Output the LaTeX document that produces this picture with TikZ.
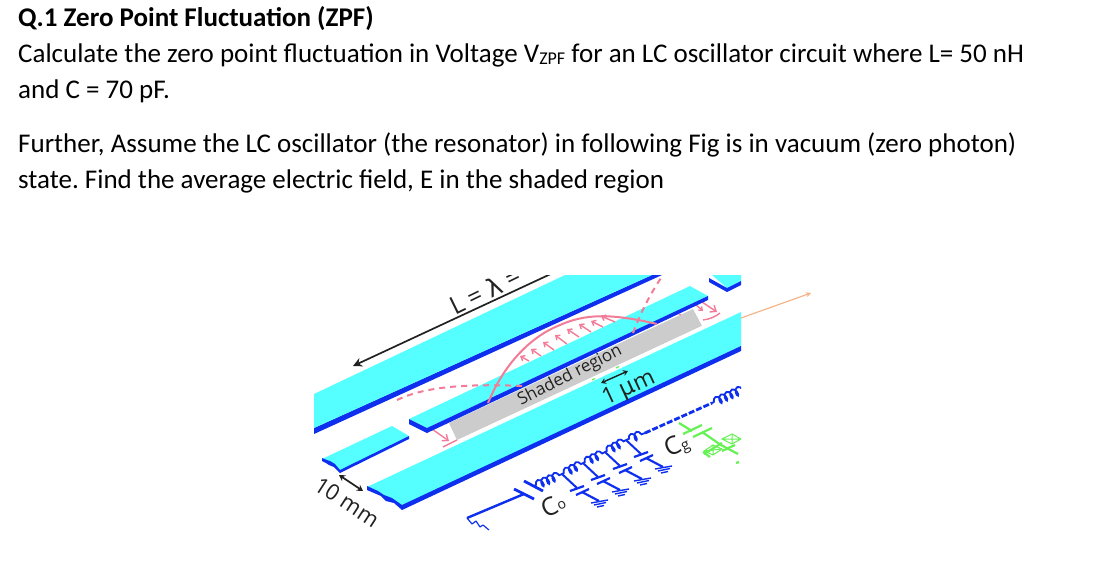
\documentclass[tikz,border=0pt]{standalone}
\usepackage{fontspec}
\setmainfont{Carlito}
\newfontfamily\figfont{Open Sans}
\newfontfamily\symfont{DejaVu Sans}
\usetikzlibrary{decorations.pathmorphing,arrows.meta}
\frenchspacing
\definecolor{stripc}{HTML}{55FFFF}
\definecolor{edgec}{HTML}{0F2FEF}
\definecolor{pinkc}{HTML}{F27C98}
\definecolor{greenc}{HTML}{66F255}
\definecolor{orangec}{HTML}{F5B183}
\definecolor{grayc}{HTML}{CCCCCC}
\definecolor{inkc}{HTML}{222222}
\tikzset{
  bodytext/.style={anchor=base west,inner sep=0pt,font=\fontsize{27}{27}\selectfont,text=black},
  figtext/.style={inner sep=0pt,text=inkc,font=\figfont\fontsize{#1}{#1}\selectfont},
  strip/.style={fill=stripc,draw=none},
  edge/.style={fill=edgec,draw=none},
  wire/.style={draw=edgec,line width=2.4pt},
  plate/.style={draw=edgec,line width=2.8pt},
  coilwire/.style={draw=edgec,line width=1.8pt,decorate,decoration={coil,segment length=6pt,amplitude=4pt,aspect=0.55,pre length=2pt,post length=2pt}},
  pinkline/.style={draw=pinkc,line width=2pt},
  pinkdash/.style={draw=pinkc,line width=2pt,dash pattern=on 6pt off 5pt},
  pinkarrow/.style={draw=pinkc,line width=1.4pt,-{Straight Barb[length=3.5pt,width=6pt]}},
  dimarrow/.style={draw=inkc,line width=1.7pt,{Stealth[length=6pt,width=7pt]}-{Stealth[length=6pt,width=7pt]}},
  greenwire/.style={draw=greenc,line width=2.2pt},
  squidline/.style={draw=greenc,line width=1pt},
}
\begin{document}
\begin{tikzpicture}[x=1pt,y=-1pt]
\useasboundingbox (0,0) rectangle (1095,579);
\fill[white] (0,0) rectangle (1095,579);
% ---- text
\node[bodytext,font=\bfseries\fontsize{27}{27}\selectfont] (title) at (18,26) {Q.1 Zero Point Fluctuation (ZPF)};
\node[bodytext] (lineA) at (18,62) {Calculate the zero point fluctuation in Voltage V\raisebox{-2pt}{\fontsize{18}{18}\selectfont ZPF} for an LC oscillator circuit where L= 50 nH};
\node[bodytext] (lineB) at (18,98) {and C = 70 pF.};
\node[bodytext] (lineC) at (18,152) {Further, Assume the LC oscillator (the resonator) in following Fig is in vacuum (zero photon)};
\node[bodytext] (lineD) at (18,188) {state. Find the average electric field, E in the shaded region};
% ---- figure
\begin{scope}
\clip (314,275) rectangle (741,531);
% top strip
\fill[edge] (314,428) -- (652,275) -- (662,275) -- (314,434) -- cycle;
\fill[strip] (314,394) -- (565,275) -- (652,275) -- (314,428) -- cycle;
% upper right piece
\fill[strip] (712,275) -- (727,288) -- (741,281) -- (741,275) -- cycle;
\fill[edge] (709,278) -- (727,288) -- (741,281) -- (741,285) -- (727,292) -- (709,282) -- cycle;
% small left strip
\fill[strip] (322,459) -- (392,426) -- (409,436) -- (340,471) -- cycle;
\fill[edge] (409,436) -- (409,439) -- (340,473) -- (334,467) -- (329,465) -- (326,463) -- (322,461) -- (322,458) -- (327,460) -- (330,461) -- (335,464) -- (340,470) -- cycle;
% bottom strip
\fill[strip] (367,487) -- (741,312) -- (741,346) -- (402,506) -- (387,497) -- (383,496) -- (378,493) -- cycle;
\fill[edge] (741,346) -- (741,351) -- (402,510) -- (394,503) -- (386,501) -- (381,496) -- (367,490) -- (367,486) -- (378,491) -- (384,495) -- (392,498) -- (402,505) -- cycle;
% gray region
\fill[grayc] (449,423) -- (693,309) -- (702,326) -- (457,440) -- cycle;
\draw[white,line width=1pt] (457,441) -- (703,326);
% lower pink field arrows (behind the centre strip)
\draw[pinkarrow,-{Straight Barb[length=5pt,width=8pt]}] (432,429) -- (449,441);
\draw[pinkline,line width=1.4pt] (443,447) -- (457,440);
\draw[pinkarrow,-{Straight Barb[length=5pt,width=8pt]}] (702,302) -- (717,312);
\draw[pinkarrow,-{Straight Barb[length=3pt,width=5pt]}] (695,304) -- (703,311);
\draw[pinkline,line width=1.4pt] (703,320) .. controls (710,319) and (715,317) .. (720,313);
\draw[pinkline,line width=1pt] (669,317) -- (674,314);
\draw[pinkline,line width=1pt] (677,313) -- (681,315);
\draw[pinkline,line width=1pt] (445,421) -- (447,424);
\draw[pinkline,line width=1pt] (462,412) -- (464,414);
\draw[pinkline,line width=1pt] (476,407) -- (477,409);
% centre strip
\fill[strip] (409,419) -- (690,286) -- (708,296) -- (427,428) -- cycle;
\fill[edge] (409,419) -- (427,428) -- (708,296) -- (708,300) -- (427,433) -- (409,424) -- cycle;
% upper pink field arrows
\foreach \tx/\ty/\hx/\hy in {529/361/520/356, 541/356/531/349, 554/350/543/342, 567/344/555/335, 579/337/567/329, 591/332/579/324, 603/327/591/321, 615/322/601/316}{
  \draw[pinkarrow] (\tx,\ty) -- (\hx,\hy);
}
% pink curves
\draw[pinkline] (488,403) .. controls (505,362) and (532,336) .. (560,325) .. controls (585,314) and (610,313) .. (657,324);
\draw[pinkdash] (397,400) .. controls (420,389) and (455,383) .. (523,386);
\draw[pinkdash] (633,333) .. controls (641,312) and (650,294) .. (663,275);
% dimension arrows
\draw[dimarrow,{Stealth[length=9pt,width=9pt]}-] (353,366) -- (555,272);
\draw[dimarrow] (339,475) -- (363,491);
\draw[dimarrow,line width=1.4pt,{Stealth[length=5pt,width=6pt]}-{Stealth[length=5pt,width=6pt]}] (601,383) -- (628,371);
\draw[greenc,line width=1.2pt] (592,380) -- (595,378.5) (616,368) -- (619,366.5);
% labels
\node[figtext=25,rotate=26,anchor=base west] (lenlabel) at (455,316) {L = \symfont λ\figfont{} =};
\node[figtext=22,rotate=-33] (widthlabel) at (347,502) {10 mm};
\node[figtext=17,rotate=27] (shaded) at (570,376) {Shaded region};
\node[figtext=23,rotate=25] (gaplabel) at (629,389) {1 \symfont µ\figfont m};
\node[figtext=25,rotate=25] (czero) at (553,505) {C\raisebox{1pt}{\fontsize{14}{14}\selectfont o}};
\node[figtext=25,rotate=25] (cg) at (677,446) {C\raisebox{-1pt}{\fontsize{15}{15}\selectfont g}};
% circuit
\coordinate (rstart) at (467,518);
\draw[wire,line width=1.2pt,line join=bevel] (rstart) -- (472,524) -- (476,521) -- (480,527) -- (483,525) -- (489,530);
\draw[wire] (rstart) -- (524,494);
\draw[plate] (514,489) -- (534,499);
\draw[plate] (524,481) -- (543,491);
\coordinate (n0) at (534,486);
\coordinate (n1) at (562,474);
\coordinate (n2) at (583,463);
\coordinate (n3) at (605,452);
\coordinate (n4) at (626,440);
\coordinate (n5) at (645,433);
\coordinate (n6) at (712,403);
\coordinate (n7) at (745,388);
\draw[coilwire] (n0) -- (n1);
\draw[coilwire] (n1) -- (n2);
\draw[coilwire] (n2) -- (n3);
\draw[coilwire] (n3) -- (n4);
\draw[coilwire,decoration={pre length=3pt}] (n4) -- (n5);
\draw[wire,line width=2.8pt,dash pattern=on 6pt off 2pt] (n5) -- (n6);
\draw[coilwire] (n6) -- (n7);
\foreach \n in {n1,n2,n3,n4}{
  \begin{scope}[shift={(\n)}]
    \draw[wire,line width=2pt] (0,0) -- (15,14);
    \draw[plate,line width=2.2pt] (8,17) -- (22,12);
    \draw[plate,line width=2.2pt] (14,21) -- (27,15);
    \draw[wire,line width=2.2pt] (20,18) -- (37,27);
    \draw[wire,line width=1.4pt] (29,29) -- (46,26);
    \draw[wire,line width=1.4pt] (32,31) -- (44,28.5);
    \draw[wire,line width=1.4pt] (35,33) -- (42,31.5);
  \end{scope}
}
% gate capacitor and squid
\draw[greenwire] (679,423) -- (692,431);
\draw[greenwire] (683,434) -- (702,425);
\draw[greenwire] (693,437) -- (712,428);
\draw[greenwire] (702,432) -- (721,445) -- (738,454);
\draw[greenwire] (704,454) -- (722,443);
\draw[greenwire] (722,451) -- (735,445);
\draw[greenwire] (703,452) -- (710,457);
\draw[squidline] (704,451) -- (713,445) -- (722,449) -- (713,455) -- cycle (704,451) -- (722,449) (713,445) -- (713,455);
\draw[squidline] (722,439) -- (732,434) -- (741,439) -- (732,444) -- cycle (722,439) -- (741,439) (732,434) -- (732,444);
\draw[greenwire] (736,463) -- (739,462);
\end{scope}
% output arrow
\coordinate (leadstart) at (741,318);
\coordinate (leadend) at (811,293);
\draw[draw=orangec,line width=1.1pt,-{Stealth[length=5pt,width=5pt]}] (leadstart) -- (leadend);
\end{tikzpicture}
\end{document}
